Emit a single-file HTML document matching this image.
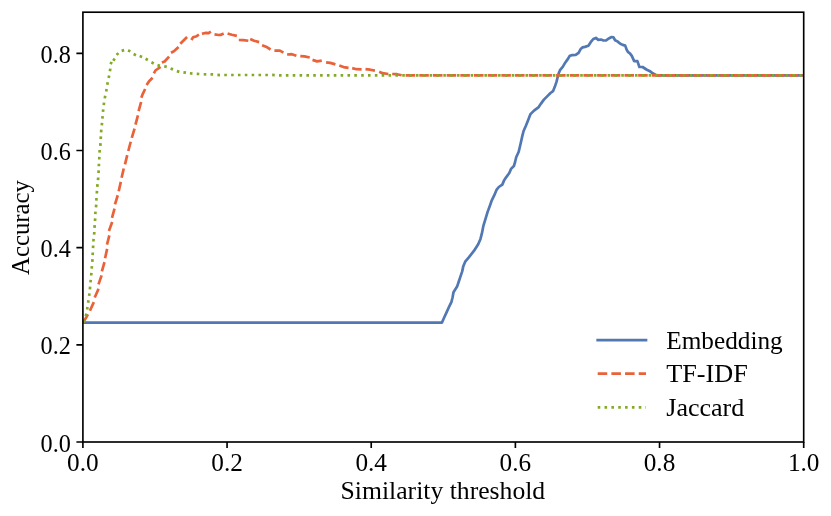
<!DOCTYPE html>
<html><head><meta charset="utf-8"><title>Accuracy vs similarity threshold</title>
<style>html,body{margin:0;padding:0;background:#fff;overflow:hidden}svg{display:block}</style>
</head><body>
<svg width="831" height="516" viewBox="0 0 831 516">
<rect width="831" height="516" fill="#fff"/>
<defs><clipPath id="ax"><rect x="82.9" y="12.2" width="720.8" height="429.8"/></clipPath></defs>
<g clip-path="url(#ax)" fill="none" stroke-width="2.7">
<polyline points="83,322.6 441.9,322.6 444.2,317.5 447,311.4 449.3,306.3 451.5,301.8 452.6,297.3 453.5,292.2 454.9,290 457.1,286.6 458.8,281.5 460.5,276.4 462.2,271.4 463.2,266.6 465.2,261.7 468.8,257.4 473.9,250.9 478.2,244.3 480.4,239.2 481.9,233.4 483.3,226.2 485.5,218.9 487.7,211.6 489.8,206 491.8,200.3 494.1,195.7 496.5,189.9 498.8,187 502.3,184.6 504,180.6 506.3,177.1 509.3,173 511,168.9 513.9,166 515.1,162 516.2,157.3 518.7,151.8 520.7,143.2 522.4,135.6 523.6,131 525.9,125.7 528.2,119.9 530.5,114.1 534,110.6 538.7,107.1 541,103.6 543.9,99.6 547.4,96.1 550.5,93 553,91.2 554.7,87.1 556.5,81.9 557.6,77.2 558.8,73.1 560,70.2 562.9,66.7 565.2,62.7 568.1,58.6 569.8,55.7 572.2,55.1 575.7,54.9 578.6,52.8 580.9,48.7 582.6,47.4 584.9,46.9 588.4,45.7 590.7,42.2 593.3,39 595.9,37.9 598.3,39.9 600.9,39.5 603.5,40.5 606.1,40.3 609.3,38.2 611.6,37 613.4,37.3 615.1,40.2 617.4,41.4 620.3,43.7 622.7,44.9 625.2,45.6 626.8,50 628.2,52.2 629.9,53.4 631.8,55.9 634.2,61.1 637.4,61.1 639.4,67 642.6,67 646.4,69.5 649.9,71.2 652.7,73.3 655.5,74.7 657.6,75.4 803.7,75.4" stroke="#5278b4" stroke-linejoin="round" stroke-linecap="square"/>
<path d="M83 322.6 L85.6 318.6 L87.98 314.45M89.9 310.8 L93.84 302.1M94.7 297.5 L98.56 288.76M98.5 284.4 L101.59 275.36M101.9 271.3 L104.48 262.1M105.1 258.2 L107.13 248.86M107 244.6 L109.34 235.34M108.9 231 L112.2 222.03M112 217.9 L114.51 208.68M115 204.4 L117.76 195.26M118.7 191.2 L120.82 181.88M121.6 177.8 L123.74 168.49M125 164.4 L127.24 155.11M128.3 151 L130.74 141.76M131.8 137.8 L134.54 128.65M135.5 124.7 L137.94 115.46M138.6 111.2 L141.11 101.98M141.3 97.7 L142.8 93.8 L145.15 88.97M146.6 85.1 L149.1 81.2 L152.58 77.72M153.9 73.4 L155.4 70.5 L160.61 66.98M161.9 62.5 L164.6 61.5 L169.07 56.55M171 52.7 L173.9 51.3 L178.57 47.03M180.3 43.7 L187.06 36.94M191.4 39.9 L193.1 37.3 L196.6 36.2 L198.94 34.7M201.9 33.8 L206.1 32.9 L208.5 33.2 L210.86 31.62M214.5 34.4 L218.6 35 L220.4 34.9 L223.68 33.4M227.6 33.5 L231.8 34.7 L236.84 35.93M238.8 40 L243.3 40.1 L248.31 40.77M250.2 38.9 L254.1 40.7 L259.16 42.14M262.1 45.2 L266 46.7 L270.58 49.52M274.4 50.6 L279.9 50.6 L283.44 52.57M287.1 54.5 L291.9 54.2 L296.4 55.7M300.3 56.1 L304.5 56.4 L309.74 57.45M312.5 59.9 L317 61.4 L321.75 60.66M326.1 62.3 L330.3 62.9 L335.41 64.36M339.3 65.6 L343.5 67.1 L348.53 67.87M352.2 68.1 L356.5 69.2 L361.61 69.44M365.5 69.2 L370.2 69.7 L374.92 70.69M379.2 71.7 L382.5 73.2 L388.37 74.02M392.2 74 L396.9 74.2 L401.63 75.25M405.6 75.4 L415.15 75.4M419.28 75.4 L428.83 75.4M432.96 75.4 L442.51 75.4M446.64 75.4 L456.19 75.4M460.32 75.4 L469.87 75.4M474 75.4 L483.55 75.4M487.68 75.4 L497.23 75.4M501.36 75.4 L510.91 75.4M515.04 75.4 L524.59 75.4M528.72 75.4 L538.27 75.4M542.4 75.4 L551.95 75.4M556.08 75.4 L565.63 75.4M569.76 75.4 L579.31 75.4M583.44 75.4 L592.99 75.4M597.12 75.4 L606.67 75.4M610.8 75.4 L620.35 75.4M624.48 75.4 L634.03 75.4M638.16 75.4 L647.71 75.4M651.84 75.4 L661.39 75.4M665.52 75.4 L675.07 75.4M679.2 75.4 L688.75 75.4M692.88 75.4 L702.43 75.4M706.56 75.4 L716.11 75.4M720.24 75.4 L729.79 75.4M733.92 75.4 L743.47 75.4M747.6 75.4 L757.15 75.4M761.28 75.4 L770.83 75.4M774.96 75.4 L784.51 75.4M788.64 75.4 L798.19 75.4M802.32 75.4 L805.7 75.4" stroke="#e9623a" stroke-linejoin="round" stroke-linecap="butt"/>
<path d="M83.12 322.4 L84.08 320M85.75 316.14 L86.45 313.66M87.09 309.47 L87.51 306.93M88.11 302.78 L88.49 300.22M89.14 295.88 L89.46 293.32M89.88 289.28 L90.12 286.72M90.48 282.49 L90.72 279.91M91.19 275.49 L91.41 272.91M91.7 268.69 L91.9 266.11M92.31 261.79 L92.49 259.21M92.63 255.09 L92.77 252.51M93.02 248.09 L93.18 245.51M93.4 241.49 L93.6 238.91M94.1 234.59 L94.3 232.01M94.51 227.79 L94.69 225.21M95.02 220.99 L95.18 218.41M95.31 214.19 L95.49 211.61M96.01 207.29 L96.19 204.71M96.33 200.59 L96.47 198.01M96.81 193.49 L96.99 190.91M97.28 186.79 L97.52 184.21M97.99 180.09 L98.21 177.51M98.53 172.99 L98.67 170.41M98.83 166.29 L98.97 163.71M99.23 159.49 L99.37 156.91M99.5 152.59 L99.7 150.01M100.29 145.79 L100.51 143.21M100.72 138.99 L100.88 136.41M101.1 132.29 L101.3 129.71M101.78 125.49 L102.02 122.91M102.39 118.69 L102.61 116.11M102.97 111.88 L103.23 109.32M103.72 105.18 L104.08 102.62M104.77 98.37 L105.23 95.83M106.17 91.57 L106.63 89.03M107.26 84.77 L107.74 82.23M108.66 78.07 L109.14 75.53M109.9 71.17 L110.3 68.63M110.64 64.31 L111.56 61.89M113.26 60.76 L114.74 58.64M116.6 54.93 L118.4 53.07M121.65 50.84 L124.15 50.16M127.98 50.43 L130.42 51.27M133.64 54.04 L135.96 55.16M139.7 56.02 L142.1 56.98M145.57 58.78 L147.83 60.02M151.45 62.31 L153.75 63.49M157.46 65.14 L159.94 65.86M164.25 66.28 L166.75 66.92M170.6 68.43 L173 69.37M176.86 71.15 L179.34 71.85M183.42 72.31 L185.98 72.69M189.92 73.26 L192.48 73.54M196.71 73.82 L199.29 73.98M203.71 74.25 L206.29 74.35M210.51 74.33 L213.09 74.47M217.41 74.94 L219.99 75.06M224.25 75 L226.84 75M231.1 75 L233.68 75M237.94 75 L240.53 75M244.79 75 L247.37 75M251.63 75 L254.22 75M258.48 75 L261.06 75M265.32 75 L267.91 75M272.17 74.96 L274.75 75.04M279.01 75.36 L281.6 75.44M285.86 75.4 L288.44 75.4M292.7 75.4 L295.29 75.4M299.55 75.4 L302.13 75.4M306.39 75.4 L308.98 75.4M313.24 75.4 L315.82 75.4M320.08 75.4 L322.67 75.4M326.93 75.4 L329.51 75.4M333.77 75.4 L336.36 75.4M340.62 75.4 L343.2 75.4M347.46 75.4 L350.05 75.4M354.31 75.4 L356.89 75.4M361.15 75.4 L363.74 75.4M368 75.4 L370.58 75.4M374.84 75.4 L377.43 75.4M381.69 75.4 L384.27 75.4M388.53 75.4 L391.12 75.4M395.38 75.4 L397.96 75.4M402.22 75.4 L404.81 75.4M409.07 75.4 L411.65 75.4M415.91 75.4 L418.5 75.4M422.76 75.4 L425.34 75.4M429.6 75.4 L432.19 75.4M436.45 75.4 L439.03 75.4M443.29 75.4 L445.88 75.4M450.14 75.4 L452.72 75.4M456.98 75.4 L459.57 75.4M463.83 75.4 L466.41 75.4M470.67 75.4 L473.26 75.4M477.52 75.4 L480.1 75.4M484.36 75.4 L486.95 75.4M491.21 75.4 L493.79 75.4M498.05 75.4 L500.64 75.4M504.9 75.4 L507.48 75.4M511.74 75.4 L514.33 75.4M518.59 75.4 L521.17 75.4M525.43 75.4 L528.02 75.4M532.28 75.4 L534.86 75.4M539.12 75.4 L541.71 75.4M545.97 75.4 L548.55 75.4M552.81 75.4 L555.4 75.4M559.66 75.4 L562.24 75.4M566.5 75.4 L569.09 75.4M573.35 75.4 L575.93 75.4M580.19 75.4 L582.78 75.4M587.04 75.4 L589.62 75.4M593.88 75.4 L596.47 75.4M600.73 75.4 L603.31 75.4M607.57 75.4 L610.16 75.4M614.42 75.4 L617 75.4M621.26 75.4 L623.85 75.4M628.11 75.4 L630.69 75.4M634.95 75.4 L637.54 75.4M641.8 75.4 L644.38 75.4M648.64 75.4 L651.23 75.4M655.49 75.4 L658.07 75.4M662.33 75.4 L664.92 75.4M669.18 75.4 L671.76 75.4M676.02 75.4 L678.61 75.4M682.87 75.4 L685.45 75.4M689.71 75.4 L692.3 75.4M696.56 75.4 L699.14 75.4M703.4 75.4 L705.99 75.4M710.25 75.4 L712.83 75.4M717.09 75.4 L719.68 75.4M723.94 75.4 L726.52 75.4M730.78 75.4 L733.37 75.4M737.63 75.4 L740.21 75.4M744.47 75.4 L747.06 75.4M751.32 75.4 L753.9 75.4M758.16 75.4 L760.75 75.4M765.01 75.4 L767.59 75.4M771.85 75.4 L774.44 75.4M778.7 75.4 L781.28 75.4M785.54 75.4 L788.13 75.4M792.39 75.4 L794.97 75.4M799.23 75.4 L801.82 75.4" stroke="#82aa24" stroke-linecap="butt"/>
</g>
<rect x="82.9" y="12.2" width="720.8" height="429.8" fill="none" stroke="#000" stroke-width="1.65"/>
<path d="M76.4 442H82.9M76.4 344.82H82.9M76.4 247.65H82.9M76.4 150.48H82.9M76.4 53.3H82.9M82.9 442.0V447.9M227.06 442.0V447.9M371.22 442.0V447.9M515.38 442.0V447.9M659.54 442.0V447.9M803.7 442.0V447.9" stroke="#000" stroke-width="1.65" fill="none"/>
<g font-family="'Liberation Serif', serif" font-size="25" fill="#000"><text x="70.9" y="451.6" text-anchor="end" textLength="30.3" lengthAdjust="spacingAndGlyphs">0.0</text><text x="70.9" y="354.43" text-anchor="end" textLength="30.3" lengthAdjust="spacingAndGlyphs">0.2</text><text x="70.9" y="257.25" text-anchor="end" textLength="30.3" lengthAdjust="spacingAndGlyphs">0.4</text><text x="70.9" y="160.08" text-anchor="end" textLength="30.3" lengthAdjust="spacingAndGlyphs">0.6</text><text x="70.9" y="62.9" text-anchor="end" textLength="30.3" lengthAdjust="spacingAndGlyphs">0.8</text><text x="67.1" y="471" textLength="31.6" lengthAdjust="spacingAndGlyphs">0.0</text><text x="211.26" y="471" textLength="31.6" lengthAdjust="spacingAndGlyphs">0.2</text><text x="355.42" y="471" textLength="31.6" lengthAdjust="spacingAndGlyphs">0.4</text><text x="499.58" y="471" textLength="31.6" lengthAdjust="spacingAndGlyphs">0.6</text><text x="643.74" y="471" textLength="31.6" lengthAdjust="spacingAndGlyphs">0.8</text><text x="787.9" y="471" textLength="31.6" lengthAdjust="spacingAndGlyphs">1.0</text><text x="340.6" y="499" textLength="204.6" lengthAdjust="spacingAndGlyphs">Similarity threshold</text><text transform="translate(28.6,275) rotate(-90)" textLength="95" lengthAdjust="spacingAndGlyphs">Accuracy</text><text x="666.3" y="349.2" textLength="116.4" lengthAdjust="spacingAndGlyphs">Embedding</text><text x="666.3" y="382.1" textLength="81.5" lengthAdjust="spacingAndGlyphs">TF-IDF</text><text x="666.3" y="415.7" textLength="78" lengthAdjust="spacingAndGlyphs">Jaccard</text></g>
<path d="M597.7 340.15H646" stroke="#5278b4" stroke-width="2.7" stroke-linecap="square"/>
<path d="M597.7 373.6H646" stroke="#e9623a" stroke-width="2.7" stroke-dasharray="9.55 4.13"/>
<path d="M597.7 407.4H646" stroke="#82aa24" stroke-width="2.7" stroke-dasharray="2.58 4.26"/>
</svg>
</body></html>
